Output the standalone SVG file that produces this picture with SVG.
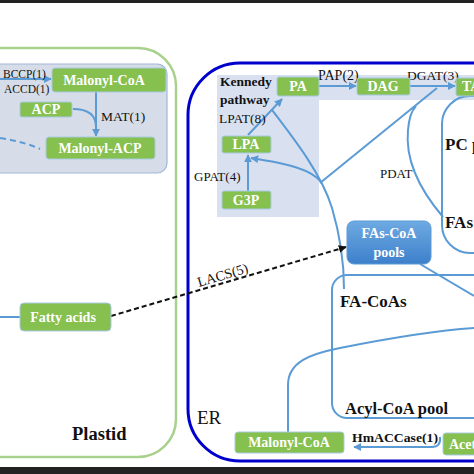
<svg xmlns="http://www.w3.org/2000/svg" width="474" height="474" viewBox="0 0 474 474">
<defs>
<linearGradient id="bg" x1="0" y1="0" x2="0" y2="1"><stop offset="0" stop-color="#6eaae2"/><stop offset="1" stop-color="#3d80cb"/></linearGradient>
<marker id="ab" viewBox="0 0 10 10" refX="9" refY="5" markerWidth="8" markerHeight="8" orient="auto" markerUnits="userSpaceOnUse"><path d="M0,0 L10,5 L0,10 z" fill="#5b9bd5"/></marker>
<marker id="ak" viewBox="0 0 10 10" refX="9" refY="5" markerWidth="8" markerHeight="8" orient="auto" markerUnits="userSpaceOnUse"><path d="M0,0 L10,5 L0,10 z" fill="#111"/></marker>
<style>
.g{fill:#86c04f;stroke:#a9c9e2;stroke-width:1}
.t{font-family:"Liberation Serif","Times New Roman",serif;fill:#111}
.b{font-weight:bold}
.w{font-family:"Liberation Serif","Times New Roman",serif;fill:#fff;font-weight:bold;font-size:14px;text-anchor:middle}
.s{text-anchor:start}
.c{fill:none;stroke:#5b9bd5;stroke-width:2}
</style>
</defs>
<rect width="474" height="474" fill="#fff"/>
<rect x="0" y="0" width="474" height="3" fill="#222"/>
<rect x="0" y="467" width="474" height="7" fill="#222"/>

<g id="plastid">
<rect x="-40" y="48" width="216" height="409" rx="38" fill="none" stroke="#a9d18e" stroke-width="2.5"/>
<rect x="-10" y="64" width="177" height="109" rx="10" fill="#d6dde8" stroke="#9fb8d6" stroke-width="1.2"/>
<text class="t b" x="72" y="440" font-size="18.5">Plastid</text>
</g>
<g id="er">
<rect x="188" y="63" width="340" height="398" rx="52" fill="none" stroke="#0000cc" stroke-width="3"/>
<path d="M217 75 H474 V100 H319 V217 H217 Z" fill="#d9e1f1"/>
<text class="t" x="197" y="424" font-size="19">ER</text>
</g>

<g id="connectors">
<path class="c" d="M0 79 H51" marker-end="url(#ab)"/>
<path class="c" d="M96 92 V136" marker-end="url(#ab)"/>
<path class="c" d="M73 109 C88 109 96 115 96 127"/>
<path class="c" d="M0 138 Q25 142 40 149" stroke-dasharray="6 4"/>
<path class="c" d="M0 317 H20"/>
<path class="c" d="M248 135 L282 99" marker-end="url(#ab)"/>
<path class="c" d="M248 191 V155" marker-end="url(#ab)"/>
<path class="c" d="M319 86 H356" marker-end="url(#ab)"/>
<path class="c" d="M410 86 H455" marker-end="url(#ab)"/>
<path class="c" d="M272 110 C295 140 322 175 332 208 C340 235 344 260 344 289"/>
<path class="c" d="M321 182 C312 170 290 164 251 158" marker-end="url(#ab)"/>
<path class="c" d="M320 183 L437 88"/>
<path class="c" d="M443 217 C420 190 405 160 408 130 C409 118 412 110 416 106"/>
<rect class="c" x="442" y="96" width="80" height="157" rx="28"/>
<path class="c" d="M420 264 L474 296"/>
<rect class="c" x="332" y="275" width="200" height="143" rx="15"/>
<path class="c" d="M288 432 V385 C288 362 310 354 340 348 C380 340 430 331 474 328"/>
<path class="c" d="M440 437 Q441 447 432 447 H354" stroke-width="1.6" marker-end="url(#ab)"/>
<path d="M111 316 L346 247" fill="none" stroke="#111" stroke-width="2" stroke-dasharray="5 3" marker-end="url(#ak)"/>
<text class="t" font-size="14" transform="translate(199 287) rotate(-16.5)">LACS(5)</text>
<text class="t" x="3" y="78" font-size="11.5">BCCP(1)</text>
<text class="t" x="4" y="93" font-size="11.5">ACCD(1)</text>
<text class="t" x="101" y="121" font-size="13.5">MAT(1)</text>
<text class="t" x="219" y="123" font-size="13.5">LPAT(8)</text>
<text class="t" x="318" y="80" font-size="14">PAP(2)</text>
<text class="t" x="407" y="80" font-size="13.5">DGAT(3)</text>
<text class="t" x="194" y="181" font-size="13">GPAT(4)</text>
<text class="t" x="380" y="178" font-size="13">PDAT</text>
<text class="t b" x="352" y="442" font-size="13" textLength="86" lengthAdjust="spacingAndGlyphs">HmACCase(1)</text>
</g>

<g id="kennedy-label">
<text class="t b" x="220" y="86" font-size="13.5">Kennedy</text>
<text class="t b" x="220" y="104" font-size="13.5">pathway</text>
</g>
<g id="malonyl-coa-plastid"><rect class="g" x="52" y="68" width="114" height="24" rx="3"/><text class="w" x="104" y="85">Malonyl-CoA</text></g>
<g id="acp"><rect class="g" x="20" y="102" width="52" height="15" rx="2"/><text class="w" x="46" y="114">ACP</text></g>
<g id="malonyl-acp"><rect class="g" x="46" y="137" width="109" height="22" rx="3"/><text class="w" x="100" y="153">Malonyl-ACP</text></g>
<g id="fatty-acids"><rect class="g" x="20" y="303" width="91" height="28" rx="4"/><text class="w" x="63" y="322" font-size="14.5">Fatty acids</text></g>
<g id="pa"><rect class="g" x="277" y="77" width="42" height="19" rx="2"/><text class="w" x="298" y="91">PA</text></g>
<g id="dag"><rect class="g" x="357" y="78" width="53" height="17" rx="2"/><text class="w" x="383" y="91">DAG</text></g>
<g id="tag"><rect class="g" x="456" y="78" width="40" height="18" rx="2"/><text class="w s" x="462" y="91">TAG</text></g>
<g id="lpa"><rect class="g" x="222" y="136" width="49" height="17" rx="2"/><text class="w" x="246" y="149">LPA</text></g>
<g id="g3p"><rect class="g" x="222" y="191" width="49" height="18" rx="2"/><text class="w" x="246" y="205">G3P</text></g>
<g id="fas-coa-pools"><rect x="347" y="221" width="84" height="43" rx="7" fill="url(#bg)" stroke="#5b9bd5"/><text class="w" x="389" y="238">FAs-CoA</text><text class="w" x="389" y="257">pools</text></g>
<g id="pc-pool"><text class="t b" x="445" y="150" font-size="17">PC pool</text><text class="t b" x="445" y="228" font-size="17">FAs</text></g>
<g id="acyl-coa-pool"><text class="t b" x="340" y="307" font-size="17">FA-CoAs</text><text class="t b" x="345" y="414" font-size="16.5">Acyl-CoA pool</text></g>
<g id="malonyl-coa-er"><rect class="g" x="235" y="432" width="109" height="21" rx="3"/><text class="w" x="289" y="447">Malonyl-CoA</text></g>
<g id="acetyl-coa"><rect class="g" x="443" y="433" width="80" height="22" rx="3"/><text class="w s" x="449" y="449">Acetyl-CoA</text></g>
</svg>
